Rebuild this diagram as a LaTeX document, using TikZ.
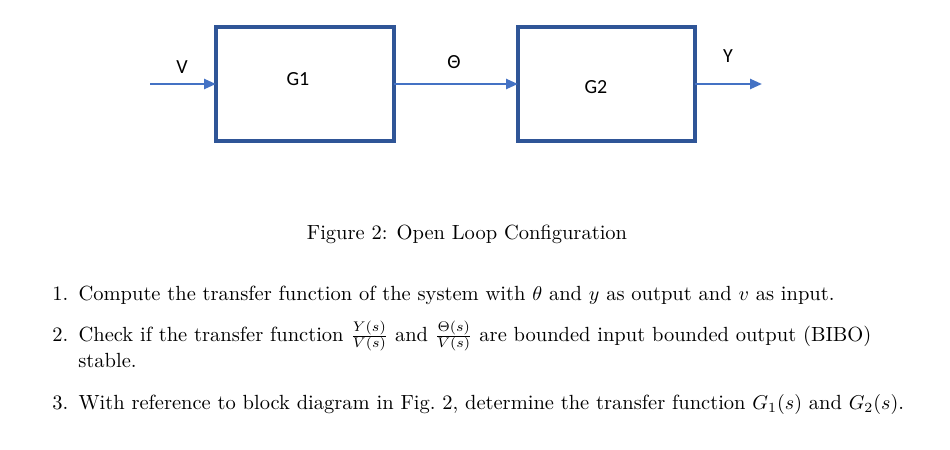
\documentclass[tikz,border=0pt]{standalone}
\usepackage{fontspec}
\newfontfamily\carlitofont{Carlito}
\usetikzlibrary{arrows.meta}
\begin{document}
\begin{tikzpicture}[x=0.5pt,y=-0.5pt,
  blk/.style={draw={rgb,255:red,47;green,85;blue,151}, line width=1.7pt, fill=white},
  sig/.style={draw={rgb,255:red,68;green,114;blue,196}, line width=1.2pt, -{Triangle[length=6pt,width=5pt]}},
  lbl/.style={font=\carlitofont\fontsize{10}{12}\selectfont},
  txt/.style={anchor=base west, inner sep=0pt, font=\fontsize{10.25}{13}\selectfont}]
\useasboundingbox (0,0) rectangle (950,450);
\draw[blk] (216,27) rectangle (394,141);
\draw[blk] (518,27) rectangle (695,141);
\coordinate (in) at (150,84);
\coordinate (g1w) at (216,84);
\coordinate (g1e) at (394,84);
\coordinate (g2w) at (518,84);
\coordinate (g2e) at (695,84);
\coordinate (out) at (762,84);
\draw[sig] (in) -- (g1w);
\draw[sig] (g1e) -- (g2w);
\draw[sig] (g2e) -- (out);
\node[lbl] (v) at (182,67) {V};
\node[lbl] (g1) at (298,79) {G1};
\node[lbl] (th) at (454,62) {Θ};
\node[lbl] (g2) at (596,87) {G2};
\node[lbl] (y) at (728,56) {Y};
\node[anchor=base, inner sep=0pt, font=\fontsize{10.25}{13}\selectfont] (cap) at (467,239) {Figure 2: Open Loop Configuration};
\node[txt] (l1) at (52,300) {1.\enspace Compute the transfer function of the system with $\theta$ and $y$ as output and $v$ as input.};
\node[txt] (l2) at (52,341) {2.\enspace Check if the transfer function $\frac{Y(s)}{V(s)}$ and $\frac{\Theta(s)}{V(s)}$ are bounded input bounded output (BIBO)};
\node[txt] (l2b) at (78,367) {stable.};
\node[txt] (l3) at (52,409) {3.\enspace With reference to block diagram in Fig.~2, determine the transfer function $G_1(s)$ and $G_2(s)$.};
\end{tikzpicture}
\end{document}
